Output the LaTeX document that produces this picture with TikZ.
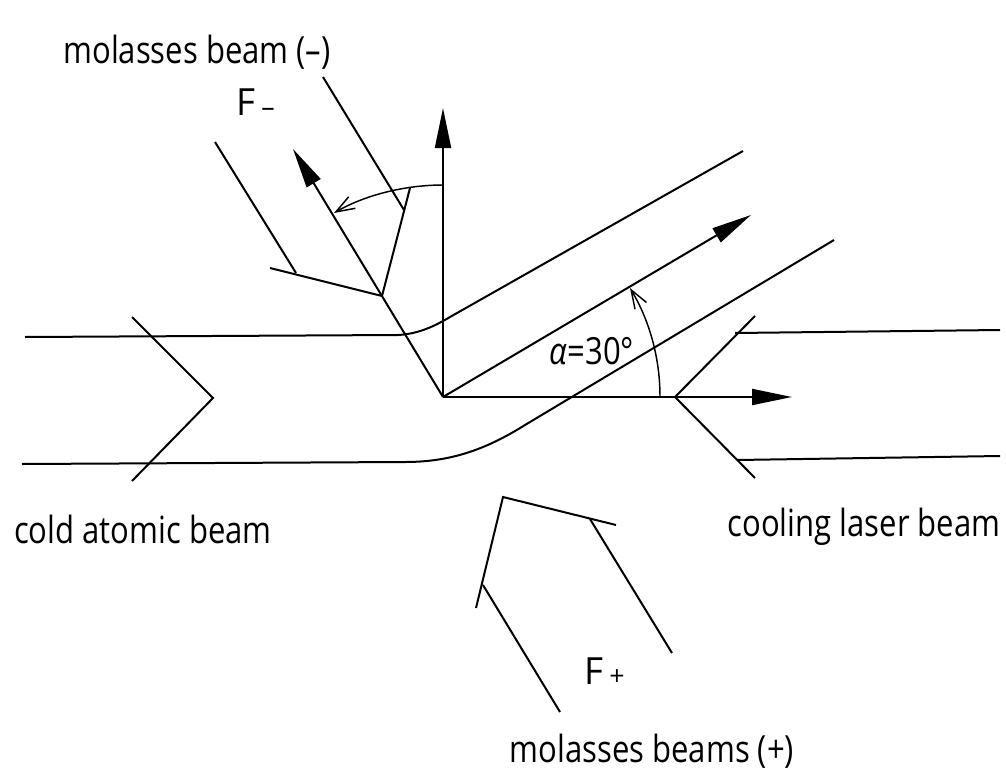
\documentclass[tikz,border=0pt]{standalone}
\usepackage{fontspec}
\setmainfont{Open Sans}
\usetikzlibrary{arrows.meta}
\newcommand{\plotter}[1]{\scalebox{0.97}[1.17]{#1}}
\tikzset{
  beamline/.style={black, line width=1.5pt},
  bigarrow/.style={beamline, -{Triangle[length=30pt,width=12pt]}},
  thinarrow/.style={line width=1.1pt, -{Straight Barb[length=14pt,width=10pt]}},
  lab/.style={inner sep=0pt, font=\fontsize{24}{24}\selectfont},
  sublab/.style={inner sep=0pt, font=\fontsize{20}{20}\selectfont}
}
\begin{document}
\begin{tikzpicture}[x=0.75pt,y=-0.75pt]
\useasboundingbox (0,0) rectangle (1006,778);
\coordinate (o) at (443,397);
% cold atomic beam
\draw[beamline] (25,337) -- (398,335) .. controls (415,334) and (430,329) .. (450,317) -- (743,151);
\draw[beamline] (22,464) -- (405,462) .. controls (450,462) and (485,450) .. (525,425) -- (834,240);
\draw[beamline] (132,317) -- (213,398) -- (132,481);
% cooling laser beam
\draw[beamline] (755,316) -- (675,397) -- (755,478);
\draw[beamline] (735,333) -- (1000,330);
\draw[beamline] (737,460) -- (1000,456);
% forces
\draw[bigarrow] (o) -- (792,397);
\draw[bigarrow] (o) -- (751,215);
\draw[bigarrow] (o) -- (443,108);
\draw[bigarrow] (o) -- (293,149);
% molasses beam (-)
\draw[beamline] (215,142) -- (296,273);
\draw[beamline] (270,268) -- (382,296) -- (410,188);
\draw[beamline] (323,77) -- (404,210);
% molasses beams (+)
\draw[beamline] (560,712) -- (483,585);
\draw[beamline] (476,608) -- (503,497) -- (616,525);
\draw[beamline] (590,519) -- (672,653);
% angles
\draw[thinarrow] (443,185) .. controls (405,185) and (365,195) .. (334,213);
\draw[thinarrow] (660,397) .. controls (660,355) and (648,318) .. (630,288);
% labels
\node[lab] (molminus) at (197,52) {\plotter{molasses beam (–)}};
\node[lab] (fminus) at (246,102) {\scalebox{1.15}[1.17]{F}};
\node[sublab] (minus) at (268,112) {–};
\node[lab] (alpha) at (592,351) {\plotter{{\itshape α}=30°}};
\node[lab] (atomic) at (143,529) {\plotter{cold atomic beam}};
\node[lab] (laser) at (864,527) {\plotter{cooling laser beam}};
\node[lab] (fplus) at (594,671) {\scalebox{1.15}[1.17]{F}};
\node[sublab] (plus) at (617,678) {+};
\node[lab] (molplus) at (652,751) {\plotter{molasses beams (+)}};
\end{tikzpicture}
\end{document}
